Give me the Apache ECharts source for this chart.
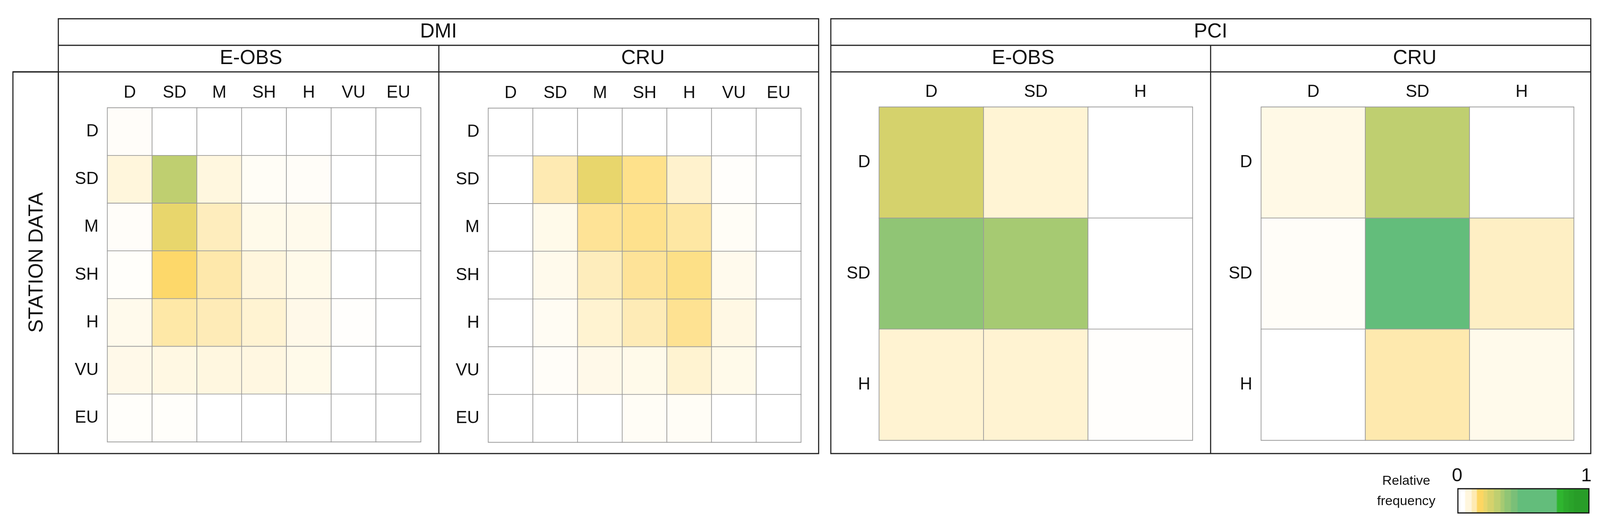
<!DOCTYPE html>
<html><head><meta charset="utf-8">
<script src="https://cdn.jsdelivr.net/npm/echarts@6/dist/echarts.min.js"></script>
<style>html,body{margin:0;padding:0;background:#fff;overflow:hidden}#c{position:absolute;left:0;top:0}</style>
</head><body><div id="c"></div>
<script>
// ---- categories ----
const dmiClasses = ['D','SD','M','SH','H','VU','EU'];
const pciClasses = ['D','SD','H'];
const legendTicks = ['0','1'];

// ---- relative frequencies: rows = STATION DATA class, columns = gridded-data class ----
const dmiEobs = [
  [0.015, 0,     0,     0,     0,     0,     0],
  [0.082, 0.300, 0.075, 0.021, 0.018, 0,     0],
  [0.015, 0.211, 0.114, 0.050, 0.045, 0,     0],
  [0.012, 0.164, 0.129, 0.080, 0.050, 0,     0],
  [0.045, 0.131, 0.120, 0.092, 0.052, 0.008, 0],
  [0.052, 0.065, 0.072, 0.070, 0.050, 0,     0],
  [0.012, 0.012, 0,     0,     0,     0,     0]
];
const dmiCru = [
  [0, 0,     0,     0,     0,     0,     0],
  [0, 0.125, 0.211, 0.146, 0.097, 0.010, 0],
  [0, 0.050, 0.140, 0.145, 0.133, 0.020, 0],
  [0, 0.045, 0.115, 0.139, 0.148, 0.043, 0],
  [0, 0.027, 0.093, 0.121, 0.142, 0.062, 0],
  [0, 0.018, 0.052, 0.050, 0.093, 0.050, 0],
  [0, 0,     0,     0.020, 0.020, 0,     0]
];
const pciEobs = [
  [0.253, 0.090, 0],
  [0.384, 0.342, 0],
  [0.092, 0.092, 0.008]
];
const pciCru = [
  [0.057, 0.300, 0],
  [0.018, 0.550, 0.107],
  [0,     0.127, 0.047]
];

// ---- colour scale ----
const legendBands = [[0,'#ffffff'],[0.060,'#fff6dd'],[0.104,'#feeab2'],[0.145,'#fdd662'],[0.192,'#e8d66c'],[0.230,'#d5d26c'],[0.277,'#bfcf70'],[0.324,'#a6ca72'],[0.360,'#90c575'],[0.408,'#7abf78'],[0.455,'#63bd7b'],[0.756,'#2fb52f'],[0.804,'#2ca92c'],[0.842,'#2aa32a'],[0.889,'#289d28']];
const cellStops = [[0,'#ffffff'],[0.082,'#fff6dc'],[0.125,'#feeab2'],[0.168,'#fdd662'],[0.211,'#e8d66c'],[0.253,'#d5d26c'],[0.300,'#bfcf70'],[0.342,'#a6ca72'],[0.384,'#90c575'],[0.431,'#7abf78'],[0.455,'#63bd7b'],[0.756,'#63bd7b'],[0.780,'#2fb52f'],[0.823,'#2ca92c'],[0.865,'#2aa32a'],[0.889,'#289d28'],[1,'#289d28']];

function hexRgb(h){return [parseInt(h.slice(1,3),16),parseInt(h.slice(3,5),16),parseInt(h.slice(5,7),16)];}
function rgbHex(c){return '#'+c.map(v=>Math.round(v).toString(16).padStart(2,'0')).join('');}
function smoothAt(v){
  for(let i=0;i<cellStops.length-1;i++){
    const a=cellStops[i], b=cellStops[i+1];
    if(v>=a[0] && v<=b[0]){
      const t=(b[0]===a[0])?0:(v-a[0])/(b[0]-a[0]);
      const ca=hexRgb(a[1]), cb=hexRgb(b[1]);
      return rgbHex(ca.map((x,k)=>x+(cb[k]-x)*t));
    }
  }
  return cellStops[cellStops.length-1][1];
}
function stepAt(v){
  let c=legendBands[0][1];
  for(const b of legendBands){ if(v>=b[0]) c=b[1]; }
  return c;
}
const N=400;
const smoothRamp=[], stepRamp=[];
for(let i=0;i<=N;i++){ smoothRamp.push(smoothAt(i/N)); stepRamp.push(stepAt(i/N)); }

function toCells(m){
  const out=[];
  m.forEach((row,r)=>row.forEach((v,c)=>out.push([c,r,v])));
  return out;
}

// ---- fit the 4335x1349 design to the actual viewport ----
const VW = window.innerWidth || 4335, VH = window.innerHeight || 1349;
const sx = VW/4335, sy = VH/1349, sf = Math.sqrt(sx*sy), sl = Math.min(sx, sy);
const X = v => v*sx, Y = v => v*sy, F = v => v*sf;
const el=document.getElementById('c');
el.style.width = VW+'px'; el.style.height = VH+'px';

const FONT='"Liberation Sans", Arial, Helvetica, sans-serif';
const gridBoxes=[
  [291, 276, 849, 855],
  [1323,277, 847, 855],
  [2382,274, 849, 853],
  [3417,274, 847, 853]
];
const grids=gridBoxes.map(g=>({left:X(g[0]),top:Y(g[1]),width:X(g[2]),height:Y(g[3])}));
const cats=[dmiClasses,dmiClasses,pciClasses,pciClasses];
const mats=[dmiEobs,dmiCru,pciEobs,pciCru];

const xAxes=cats.map((c,i)=>({type:'category',gridIndex:i,data:c,position:'top',
  axisLine:{show:false},axisTick:{show:false},splitLine:{show:false},
  axisLabel:{fontSize:F(45),color:'#111',margin:Y(16),fontFamily:FONT}}));
const yAxes=cats.map((c,i)=>({type:'category',gridIndex:i,data:c,inverse:true,
  axisLine:{show:false},axisTick:{show:false},splitLine:{show:false},
  axisLabel:{fontSize:F(45),color:'#111',margin:X(24),fontFamily:FONT}}));

const series=mats.map((m,i)=>({type:'heatmap',xAxisIndex:i,yAxisIndex:i,data:toCells(m),
  itemStyle:{borderColor:'#9b9b9b',borderWidth:2*sl},emphasis:{disabled:true},silent:true}));
series.push({type:'heatmap',name:'legend',xAxisIndex:0,yAxisIndex:0,data:[],silent:true});

const L='#222', LW=3*sl;
function line(x1,y1,x2,y2){return {type:'line',shape:{x1:X(x1),y1:Y(y1),x2:X(x2),y2:Y(y2)},style:{stroke:L,lineWidth:LW},z:50};}
function box(x,y,w,h){return {type:'rect',shape:{x:X(x),y:Y(y),width:X(w),height:Y(h)},style:{fill:null,stroke:L,lineWidth:LW},z:50};}
function txt(t,x,y,size,rot){return {type:'text',x:X(x),y:Y(y),rotation:rot||0,style:{text:t,fontSize:F(size),fontFamily:FONT,fill:'#111',align:'center',verticalAlign:'middle'},z:50};}

const graphic=[
  box(158,48,2060,1113), line(158,116,2218,116), line(35,184,2218,184), line(1189,116,1189,1161),
  box(35,184,123,977),
  box(2251,48,2059,1113), line(2251,116,4310,116), line(2251,184,4310,184), line(3280,116,3280,1161),
  txt('DMI',1188,82,53), txt('E-OBS',680,150,53), txt('CRU',1742,150,53),
  txt('PCI',3280,82,53), txt('E-OBS',2772,150,53), txt('CRU',3833,150,53),
  txt('STATION DATA',100,672,53,Math.PI/2),
  txt('Relative',3810,1232,35), txt('frequency',3810,1284,35),
  txt(legendTicks[0],3948,1219,50), txt(legendTicks[1],4298,1219,50),
  {type:'rect',shape:{x:X(3950),y:Y(1251),width:X(355),height:Y(62)},style:{fill:null,stroke:'#111',lineWidth:3*sl},z:100}
];

const chart=echarts.init(el,null,{renderer:'canvas',width:VW,height:VH});
chart.setOption({
  animation:false,
  backgroundColor:'#fff',
  grid:grids,
  xAxis:xAxes,
  yAxis:yAxes,
  visualMap:[
    {type:'continuous',show:false,min:0,max:1,seriesIndex:[0,1,2,3],inRange:{color:smoothRamp}},
    {type:'continuous',show:true,min:0,max:1,seriesIndex:[4],orient:'horizontal',
     left:X(3950),top:Y(1251),itemWidth:Y(62),itemHeight:X(355),padding:0,calculable:false,hoverLink:false,
     text:null,inRange:{color:stepRamp}}
  ],
  series:series,
  graphic:graphic
});
</script></body></html>
